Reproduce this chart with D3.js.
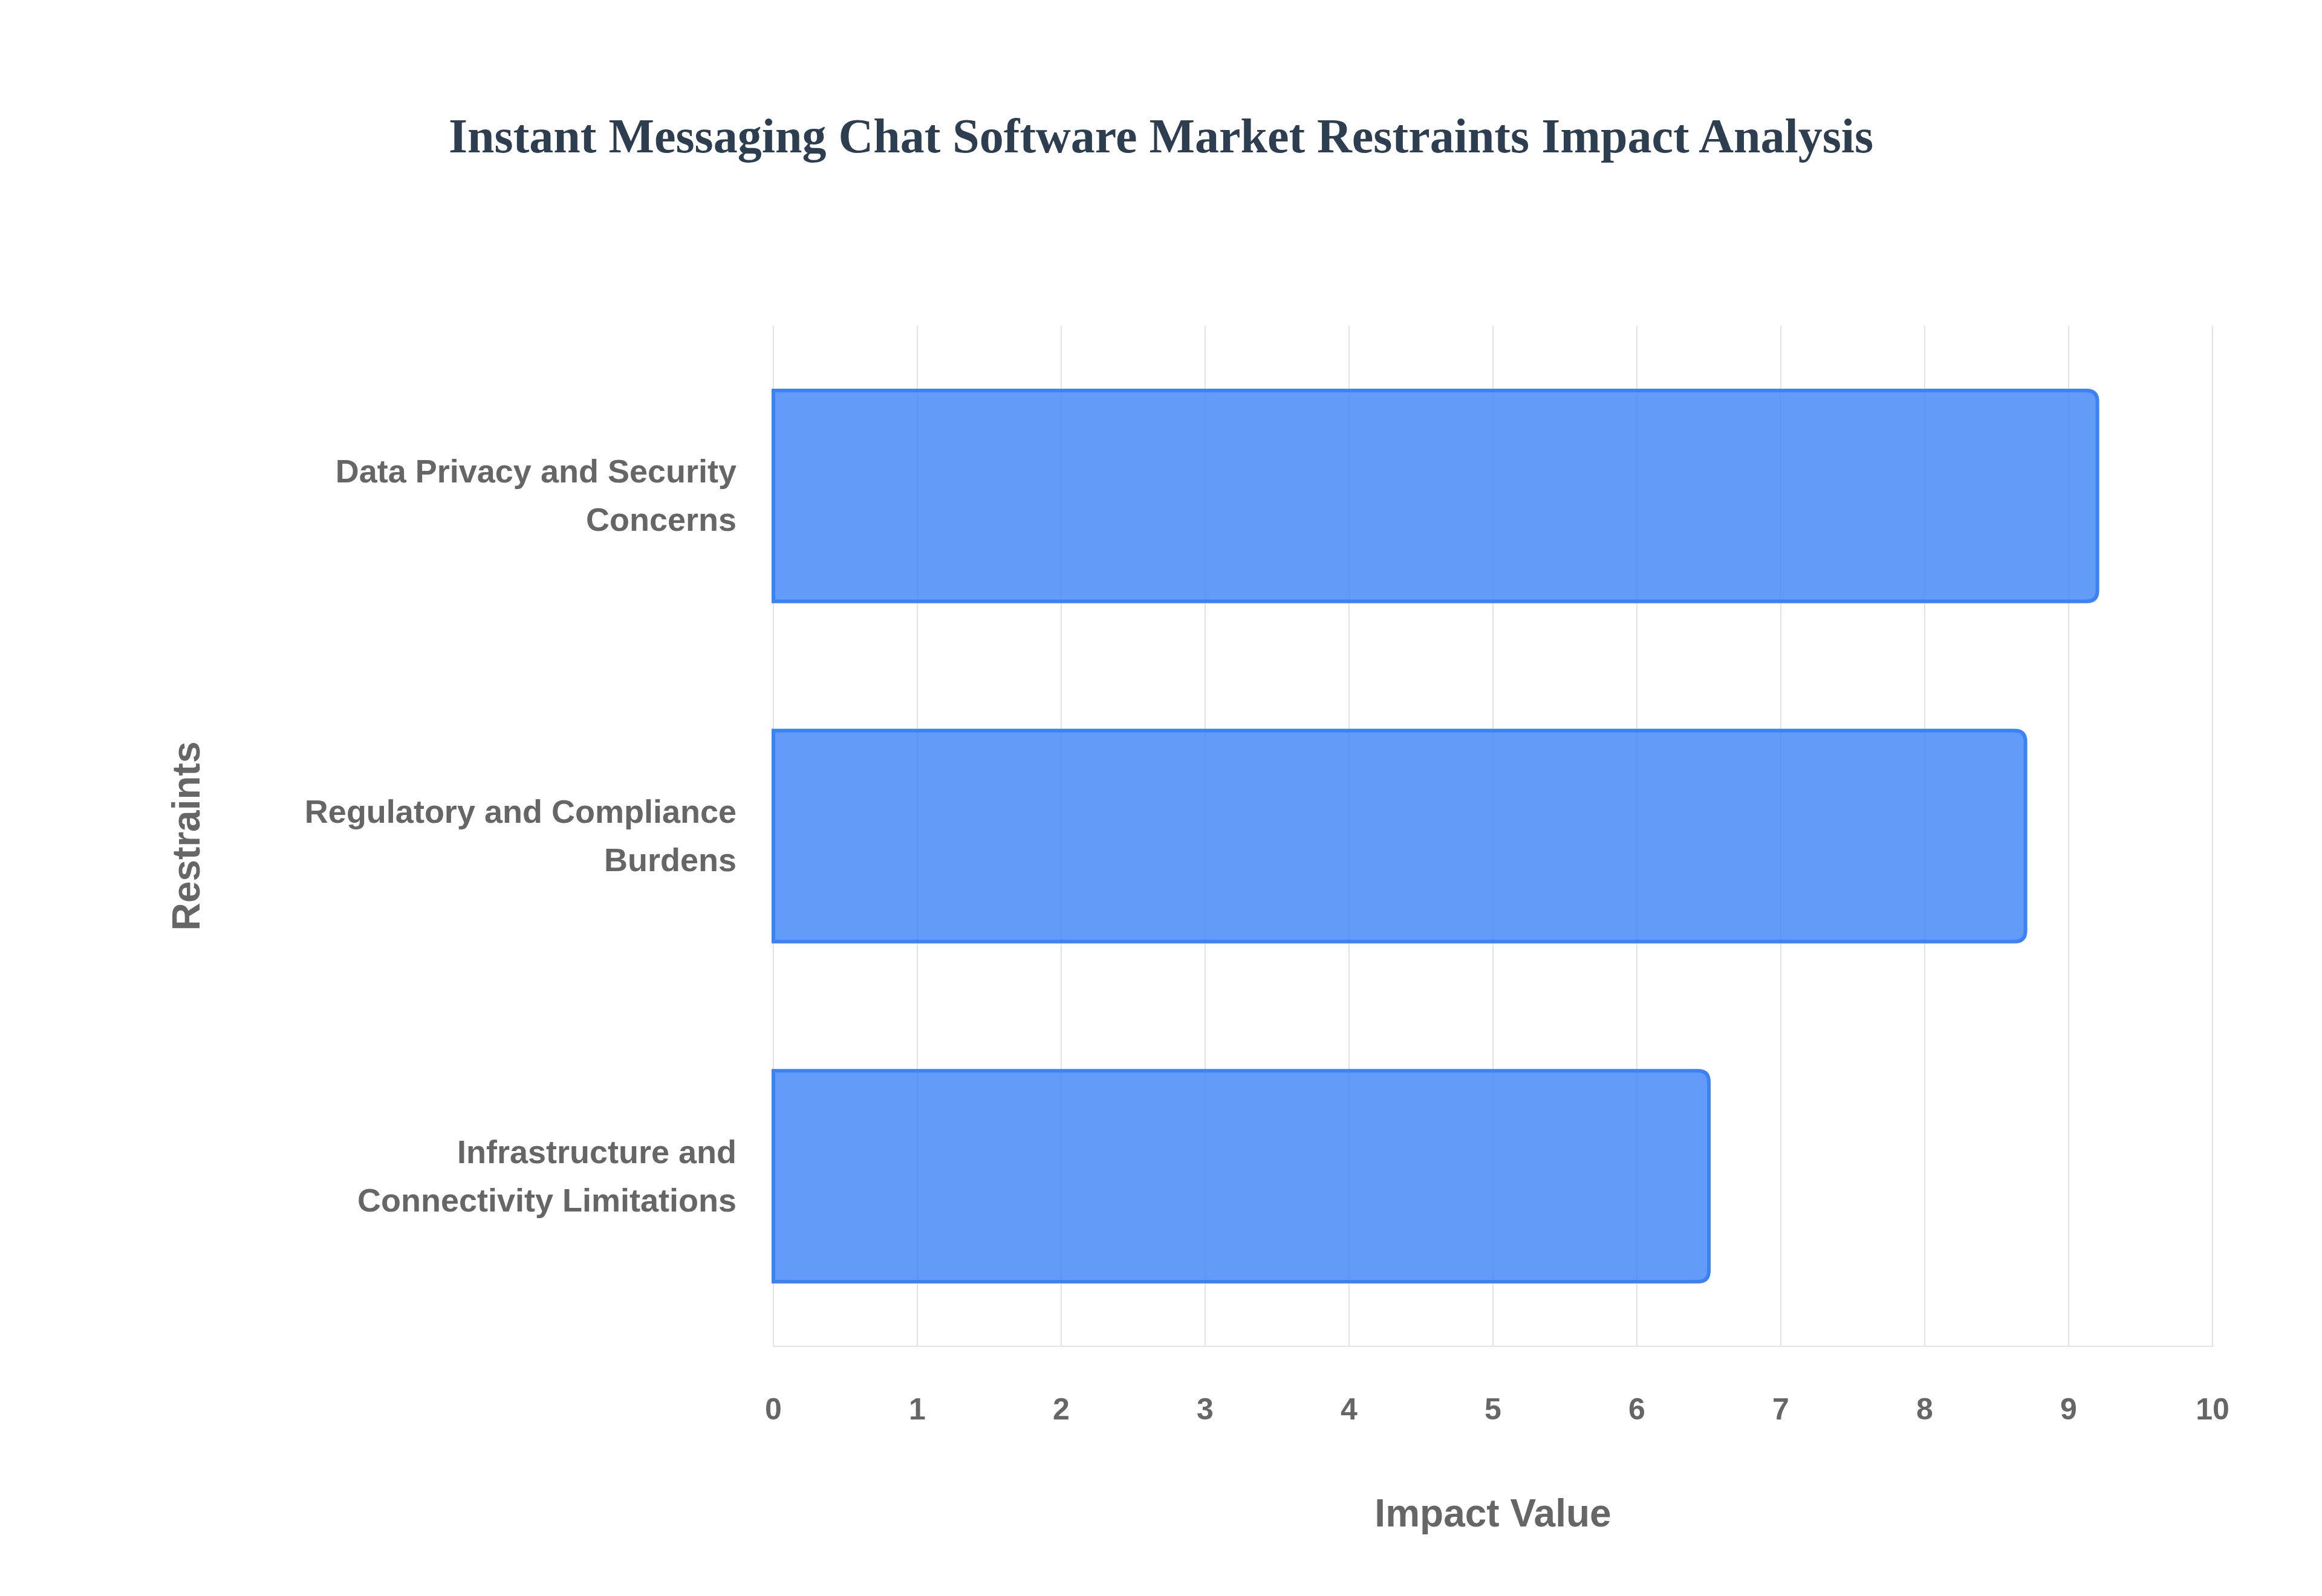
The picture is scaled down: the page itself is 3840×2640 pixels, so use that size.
<!DOCTYPE html>
<html>
<head>
<meta charset="utf-8">
<script src="https://cdn.jsdelivr.net/npm/d3@7"></script>
<style>body{margin:0;background:#fff}</style>
</head>
<body>
<script>
var categories = [["Data Privacy and Security", "Concerns"], ["Regulatory and Compliance", "Burdens"], ["Infrastructure and", "Connectivity Limitations"]];
var values = [9.2, 8.7, 6.5];
var ticks = [0,1,2,3,4,5,6,7,8,9,10];

var W = 3840, H = 2640;
var m = {left: 1279, right: 3659, top: 539, bottom: 2227};
var svg = d3.select("body").append("svg").attr("width", W).attr("height", H);

var x = d3.scaleLinear().domain([0, 10]).range([m.left, m.right]);
var y = d3.scaleBand().domain(d3.range(categories.length)).range([m.top, m.bottom]).paddingInner(0.38).paddingOuter(0.19);

// grid
svg.selectAll(".grid").data(ticks).enter().append("line")
  .attr("x1", d => x(d)).attr("x2", d => x(d))
  .attr("y1", m.top).attr("y2", m.bottom)
  .attr("stroke", "#e3e3e3").attr("stroke-width", 2);
svg.append("line").attr("x1", m.left).attr("x2", m.right).attr("y1", m.bottom).attr("y2", m.bottom)
  .attr("stroke", "#e3e3e3").attr("stroke-width", 2);

// bars, rounded on the right
var r = 18;
svg.selectAll(".bar").data(values).enter().append("path")
  .attr("d", function(d, i) {
    var x0 = x(0), x1 = x(d), y0 = y(i), h = y.bandwidth();
    return "M" + x0 + "," + y0 + "H" + (x1 - r) + "Q" + x1 + "," + y0 + " " + x1 + "," + (y0 + r) +
      "V" + (y0 + h - r) + "Q" + x1 + "," + (y0 + h) + " " + (x1 - r) + "," + (y0 + h) + "H" + x0 + "Z";
  })
  .attr("fill", "rgba(59,130,246,0.8)").attr("stroke", "#3b82f6").attr("stroke-width", 6);

// tick labels
svg.selectAll(".tick").data(ticks).enter().append("text")
  .attr("x", d => x(d)).attr("y", 2348).attr("text-anchor", "middle")
  .attr("font-family", "Liberation Sans, Arial, sans-serif").attr("font-weight", "bold")
  .attr("font-size", 50).attr("fill", "#666").text(d => d);

// category labels
svg.selectAll(".cat").data(categories).enter().append("text")
  .attr("text-anchor", "end")
  .attr("font-family", "Liberation Sans, Arial, sans-serif").attr("font-weight", "bold")
  .attr("font-size", 54).attr("fill", "#666")
  .each(function(d, i) {
    var cy = y(i) + y.bandwidth() / 2;
    d3.select(this).selectAll("tspan").data(d).enter().append("tspan")
      .attr("x", 1218).attr("y", (t, j) => cy + (j - 0.5) * 80 + 18).text(t => t);
  });

// axis titles
svg.append("text").attr("x", (m.left + m.right) / 2).attr("y", 2525).attr("text-anchor", "middle")
  .attr("font-family", "Liberation Sans, Arial, sans-serif").attr("font-weight", "bold")
  .attr("font-size", 64).attr("fill", "#666").text("Impact Value");
svg.append("text").attr("transform", "translate(330," + ((m.top + m.bottom) / 2) + ") rotate(-90)")
  .attr("text-anchor", "middle")
  .attr("font-family", "Liberation Sans, Arial, sans-serif").attr("font-weight", "bold")
  .attr("font-size", 64).attr("fill", "#666").text("Restraints");

// title
svg.append("text").attr("x", 1920).attr("y", 252).attr("text-anchor", "middle")
  .attr("font-family", "Liberation Serif, Times New Roman, serif").attr("font-weight", "bold")
  .attr("font-size", 80).attr("fill", "#2c3e50")
  .text("Instant Messaging Chat Software Market Restraints Impact Analysis");
</script>
</body>
</html>
